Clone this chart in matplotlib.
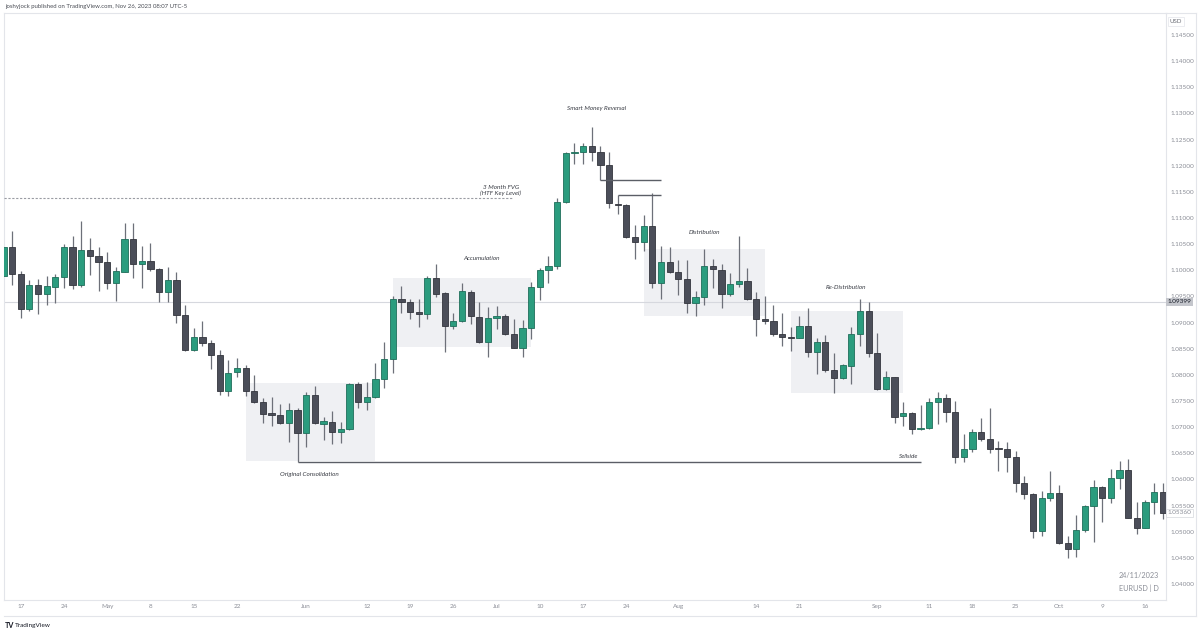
import matplotlib
matplotlib.use("Agg")
import matplotlib.pyplot as plt
from matplotlib.patches import Rectangle
import numpy as np
import pandas as pd

# ---------------- data (EURUSD daily) ----------------
start_date = "2023-04-13"
opens = [1.09891, 1.10451, 1.09929, 1.09254, 1.09724, 1.09541, 1.09686, 1.09877, 1.10451, 1.09724,
         1.10388, 1.10279, 1.10159, 1.09763, 1.09973, 1.10593, 1.10120, 1.10178, 1.10025, 1.09591,
         1.09814, 1.09145, 1.08476, 1.08730, 1.08604, 1.08374, 1.07697, 1.08049, 1.08126, 1.07692,
         1.07475, 1.07265, 1.07233, 1.07074, 1.07328, 1.06883, 1.07615, 1.07061, 1.07104, 1.06913,
         1.06965, 1.07820, 1.07475, 1.07571, 1.07927, 1.08303, 1.09445, 1.09399, 1.09203, 1.09170,
         1.09858, 1.09560, 1.08940, 1.09036, 1.09591, 1.09113, 1.08634, 1.09093, 1.09132, 1.08776,
         1.08519, 1.08902, 1.09675, 1.10000, 1.10082, 1.11300, 1.12243, 1.12256, 1.12383, 1.12268,
         1.12014, 1.11268, 1.11243, 1.10631, 1.10541, 1.10847, 1.09751, 1.10159, 1.09961, 1.09833,
         1.09369, 1.09483, 1.10088, 1.10006, 1.09547, 1.09732, 1.09795, 1.09451, 1.09063, 1.09030,
         1.08776, 1.08724, 1.08711, 1.08940, 1.08443, 1.08623, 1.08093, 1.07934, 1.08175, 1.08776,
         1.09227, 1.08424, 1.07730, 1.07953, 1.07213, 1.07265, 1.06959, 1.06978, 1.07487, 1.07552,
         1.07284, 1.06435, 1.06577, 1.06902, 1.06774, 1.06601, 1.06588, 1.06435, 1.05926, 1.05716,
         1.05014, 1.05651, 1.05735, 1.04779, 1.04664, 1.05028, 1.05492, 1.05850, 1.05651, 1.06033,
         1.06175, 1.05269, 1.05077, 1.05575, 1.05754]
highs = [1.10503, 1.10751, 1.09987, 1.09814, 1.09833, 1.09885, 1.09929, 1.10497, 1.10661, 1.10943,
         1.10623, 1.10440, 1.10350, 1.10069, 1.10899, 1.10899, 1.10464, 1.10516, 1.10038, 1.10057,
         1.09961, 1.09336, 1.08902, 1.09036, 1.08667, 1.08476, 1.08284, 1.08317, 1.08189, 1.07997,
         1.07563, 1.07582, 1.07437, 1.07456, 1.07366, 1.07678, 1.07787, 1.07200, 1.07315, 1.07104,
         1.07850, 1.07873, 1.07869, 1.08221, 1.08634, 1.09508, 1.09700, 1.09445, 1.09445, 1.09891,
         1.10115, 1.09585, 1.09189, 1.09763, 1.09623, 1.09399, 1.09304, 1.09323, 1.09164, 1.09063,
         1.09049, 1.09782, 1.10038, 1.10273, 1.11388, 1.12268, 1.12428, 1.12428, 1.12746, 1.12383,
         1.12268, 1.11440, 1.11268, 1.10866, 1.11057, 1.11484, 1.10470, 1.10451, 1.10197, 1.10197,
         1.09610, 1.10407, 1.10210, 1.10115, 1.09942, 1.10656, 1.10049, 1.09591, 1.09508, 1.09336,
         1.09177, 1.08921, 1.09126, 1.09284, 1.08711, 1.08762, 1.08412, 1.08202, 1.08910, 1.09451,
         1.09388, 1.08806, 1.08074, 1.07969, 1.07475, 1.07290, 1.07424, 1.07563, 1.07678, 1.07634,
         1.07500, 1.06869, 1.06965, 1.07169, 1.07361, 1.06735, 1.06710, 1.06544, 1.06066, 1.05741,
         1.05779, 1.06162, 1.05894, 1.04924, 1.05314, 1.05511, 1.05989, 1.05875, 1.06194, 1.06353,
         1.06385, 1.05575, 1.05607, 1.05938, 1.05926]
lows = [1.09853, 1.09719, 1.09088, 1.09221, 1.09164, 1.09330, 1.09380, 1.09655, 1.09636, 1.09675,
        1.09910, 1.09610, 1.09636, 1.09413, 1.09958, 1.09847, 1.09655, 1.09992, 1.09399, 1.09399,
        1.08998, 1.08457, 1.08462, 1.08552, 1.08106, 1.07615, 1.07596, 1.07953, 1.07596, 1.07462,
        1.07074, 1.07022, 1.07055, 1.06722, 1.06343, 1.06626, 1.07061, 1.06754, 1.06678, 1.06691,
        1.06955, 1.07372, 1.07328, 1.07558, 1.07743, 1.08030, 1.09177, 1.09063, 1.08910, 1.09063,
        1.09495, 1.08443, 1.08871, 1.09017, 1.08973, 1.08604, 1.08347, 1.08871, 1.08762, 1.08508,
        1.08347, 1.08686, 1.09432, 1.09763, 1.10019, 1.11281, 1.12033, 1.12027, 1.12090, 1.11727,
        1.11185, 1.11071, 1.10612, 1.10210, 1.10375, 1.09655, 1.09445, 1.09942, 1.09527, 1.09177,
        1.09126, 1.09336, 1.09655, 1.09284, 1.09514, 1.09675, 1.09432, 1.08743, 1.08967, 1.08743,
        1.08558, 1.08457, 1.08699, 1.08336, 1.08017, 1.08049, 1.07659, 1.07921, 1.07820, 1.08552,
        1.08347, 1.07711, 1.07711, 1.07074, 1.07028, 1.06869, 1.06955, 1.06974, 1.07055, 1.07104,
        1.06320, 1.06328, 1.06531, 1.06741, 1.06500, 1.06167, 1.06148, 1.05766, 1.05620, 1.04886,
        1.04919, 1.05588, 1.04766, 1.04492, 1.04511, 1.05001, 1.04809, 1.05192, 1.05544, 1.05817,
        1.05257, 1.04951, 1.05073, 1.05333, 1.05238]
closes = [1.10451, 1.09929, 1.09260, 1.09724, 1.09547, 1.09694, 1.09877, 1.10451, 1.09724, 1.10394,
          1.10279, 1.10153, 1.09763, 1.09987, 1.10593, 1.10120, 1.10178, 1.10025, 1.09591, 1.09814,
          1.09145, 1.08476, 1.08730, 1.08615, 1.08374, 1.07697, 1.08041, 1.08126, 1.07692, 1.07475,
          1.07246, 1.07238, 1.07074, 1.07328, 1.06883, 1.07615, 1.07074, 1.07118, 1.06913, 1.06971,
          1.07825, 1.07475, 1.07582, 1.07921, 1.08303, 1.09445, 1.09399, 1.09197, 1.09170, 1.09858,
          1.09547, 1.08940, 1.09036, 1.09604, 1.09126, 1.08634, 1.09093, 1.09132, 1.08776, 1.08519,
          1.08902, 1.09675, 1.10000, 1.10082, 1.11300, 1.12249, 1.12256, 1.12383, 1.12268, 1.12014,
          1.11281, 1.11243, 1.10631, 1.10547, 1.10847, 1.09751, 1.10159, 1.09961, 1.09833, 1.09369,
          1.09483, 1.10088, 1.10019, 1.09547, 1.09732, 1.09795, 1.09451, 1.09063, 1.09030, 1.08776,
          1.08718, 1.08711, 1.08940, 1.08443, 1.08623, 1.08093, 1.07934, 1.08189, 1.08776, 1.09227,
          1.08424, 1.07730, 1.07953, 1.07200, 1.07265, 1.06959, 1.06984, 1.07487, 1.07552, 1.07284,
          1.06435, 1.06577, 1.06902, 1.06774, 1.06588, 1.06588, 1.06435, 1.05926, 1.05716, 1.05014,
          1.05651, 1.05735, 1.04779, 1.04664, 1.05028, 1.05492, 1.05850, 1.05651, 1.06033, 1.06175,
          1.05269, 1.05077, 1.05575, 1.05754, 1.05353]

tick_dates = ["2023-04-17", "2023-04-24", "2023-05-01", "2023-05-08", "2023-05-15", "2023-05-22",
              "2023-06-01", "2023-06-12", "2023-06-19", "2023-06-26", "2023-07-03", "2023-07-10",
              "2023-07-17", "2023-07-24", "2023-08-01", "2023-08-14", "2023-08-21", "2023-09-01",
              "2023-09-11", "2023-09-18", "2023-09-25", "2023-10-02", "2023-10-09", "2023-10-16"]
tick_labels = ["17", "24", "May", "8", "15", "22", "Jun", "12", "19", "26", "Jul", "10",
               "17", "24", "Aug", "14", "21", "Sep", "11", "18", "25", "Oct", "9", "16"]
price_ticks = [1.040, 1.045, 1.050, 1.055, 1.060, 1.065, 1.070, 1.075, 1.080, 1.085, 1.090,
               1.095, 1.100, 1.105, 1.110, 1.115, 1.120, 1.125, 1.130, 1.135, 1.140, 1.145]

# zones: (label, start date, end date, low, high)
zone_labels = ["Original Consolidation", "Accumulation", "Distribution", "Re-Distribution"]
zone_starts = ["2023-05-23", "2023-06-15", "2023-07-26", "2023-08-18"]
zone_ends = ["2023-06-13", "2023-07-07", "2023-08-15", "2023-09-06"]
zone_lows = [1.06359, 1.08533, 1.09126, 1.07659]
zone_highs = [1.07850, 1.09847, 1.10407, 1.09221]

sellside_level = 1.06343
fvg_level = 1.11377
marked_price = 1.09399
last_price_label = 1.05360
level_lines_price = [1.11727, 1.11440]
level_lines_start = ["2023-07-19", "2023-07-21"]
level_lines_end = "2023-07-28"

# ---------------- style ----------------
GREEN = "#2b9c7e"
GREEN_EDGE = "#1f6e5a"
DARK = "#4b4e59"
DARK_EDGE = "#33353d"
WICK = "#6d7079"
AXIS_TXT = "#8a8d96"
BORDER = "#e3e5ea"
ZONE = "#eff0f3"
ANN = "#3a3d45"
FONT = ["Lato", "DejaVu Sans"]

plt.rcParams["font.family"] = FONT

W, H = 1200, 630
fig = plt.figure(figsize=(12, 6.3), dpi=100)
fig.patch.set_facecolor("white")

def fx(px):
    return px / W

def fy(py):
    return 1 - py / H

ax_left, ax_right, ax_top, ax_bottom = 4, 1166, 12.7, 600
ax = fig.add_axes([fx(ax_left), fy(ax_bottom), fx(ax_right - ax_left), (ax_bottom - ax_top) / H])

n = len(opens)
dates = pd.bdate_range(start_date, periods=n)

def xi(d):
    return dates.get_loc(pd.Timestamp(d))

o = np.array(opens); h = np.array(highs); l = np.array(lows); c = np.array(closes)
x = np.arange(n)
up = c >= o
body_low = np.minimum(o, c)
body_h = np.maximum(np.abs(c - o), 0.00012)

ax.set_xlim(0.07, 134.37)
ax.set_ylim(1.03695, 1.14926)

# zones
for lab, s, e, lo, hi in zip(zone_labels, zone_starts, zone_ends, zone_lows, zone_highs):
    ax.add_patch(Rectangle((xi(s), lo), xi(e) - xi(s), hi - lo, facecolor=ZONE,
                           edgecolor="none", zorder=0))

# marked price line
ax.axhline(marked_price, color="#d6d8de", lw=0.8, zorder=1)

# candles
ax.vlines(x, l, h, color=WICK, lw=0.9, zorder=2)
ax.bar(x[up], body_h[up], bottom=body_low[up], width=0.72, color=GREEN,
       edgecolor=GREEN_EDGE, linewidth=0.6, zorder=3)
ax.bar(x[~up], body_h[~up], bottom=body_low[~up], width=0.72, color=DARK,
       edgecolor=DARK_EDGE, linewidth=0.6, zorder=3)

# sellside line
ax.hlines(sellside_level, xi("2023-05-31"), xi("2023-09-08"), color="#5b5e66", lw=1.0, zorder=4)
# level lines after the top
for p, s in zip(level_lines_price, level_lines_start):
    ax.hlines(p, xi(s), xi(level_lines_end), color="#5b5e66", lw=1.0, zorder=4)
# FVG dashed line
ax.hlines(fvg_level, 0.07, xi("2023-07-05") - 0.1, color="#9a9ca3", lw=0.8,
          linestyles=(0, (2, 1.5)), zorder=4)

ann_kw = dict(fontsize=4.6, style="italic", color=ANN, ha="center", zorder=6)
ax.text(xi("2023-07-18") + 0.5, 1.13085, "Smart Money Reversal", va="center", **ann_kw)
ax.text(xi("2023-07-03") + 0.5, 1.11430, "3 Month FVG\n(HTF Key Level)", va="bottom",
        linespacing=1.1, **ann_kw)
ax.text(xi("2023-06-29") + 0.2, 1.10216, "Accumulation", va="center", **ann_kw)
ax.text(xi("2023-08-04"), 1.10732, "Distribution", va="center", **ann_kw)
ax.text(xi("2023-08-28") + 0.4, 1.09680, "Re-Distribution", va="center", **ann_kw)
ax.text(xi("2023-06-01") + 0.4, 1.06104, "Original Consolidation", va="center", **ann_kw)
ax.text(xi("2023-09-06") + 0.6, 1.06390, "Sellside", va="bottom", **ann_kw)

# axes styling
for sp in ["top", "left", "bottom", "right"]:
    ax.spines[sp].set_color(BORDER)
    ax.spines[sp].set_linewidth(0.8)
ax.yaxis.tick_right()
ax.set_yticks(price_ticks)
ax.set_yticklabels([f"{p:.5f}" for p in price_ticks])
ax.tick_params(axis="y", length=0, pad=3, labelsize=4.6, labelcolor=AXIS_TXT)
ax.set_xticks([xi(d) for d in tick_dates])
ax.set_xticklabels(tick_labels)
ax.tick_params(axis="x", length=0, pad=3, labelsize=4.6, labelcolor=AXIS_TXT)
ax.set_facecolor("white")

# price labels on the axis
ax.text(1.0015, marked_price, f"{marked_price:.5f}", transform=ax.get_yaxis_transform(),
        fontsize=4.6, color="#131722", va="center", ha="left", zorder=10,
        bbox=dict(boxstyle="square,pad=0.25", facecolor="#c4c6cc", edgecolor="none"))
ax.text(1.0015, last_price_label, f"{last_price_label:.5f}", transform=ax.get_yaxis_transform(),
        fontsize=4.6, color=AXIS_TXT, va="center", ha="left", zorder=10,
        bbox=dict(boxstyle="square,pad=0.25", facecolor="white", edgecolor="#d5d7dc", lw=0.5))

# frame lines of the price / time scales
fig.add_artist(plt.Line2D([fx(ax_left), fx(1196)], [fy(616), fy(616)], color=BORDER, lw=0.8))
fig.add_artist(plt.Line2D([fx(1196), fx(1196)], [fy(12.7), fy(616)], color=BORDER, lw=0.8))
fig.add_artist(plt.Line2D([fx(ax_right), fx(1196)], [fy(12.7), fy(12.7)], color=BORDER, lw=0.8))

# texts around
fig.text(fx(5), fy(6.7), "joshyjock published on TradingView.com, Nov 26, 2023 08:07 UTC-5",
         fontsize=4.3, color="#4a4d55", va="center", ha="left")
fig.text(fx(1170), fy(21.5), "USD", fontsize=4.4, color="#6a6d75", va="center", ha="left",
         bbox=dict(boxstyle="square,pad=0.3", facecolor="white", edgecolor="#e3e5ea", lw=0.5))
fig.text(fx(1159), fy(576), "24/11/2023", fontsize=5.2, color="#8a8d96", va="center", ha="right")
fig.text(fx(1159), fy(588), "EURUSD | D", fontsize=5.2, color="#8a8d96", va="center", ha="right")
fig.text(fx(4.5), fy(626), "TV", fontsize=5.2, color="#131722", va="center", ha="left",
         fontweight="bold")
fig.text(fx(14.5), fy(626), "TradingView", fontsize=4.6, color="#131722", va="center", ha="left")

fig.savefig("out.png", dpi=100, facecolor="white")
